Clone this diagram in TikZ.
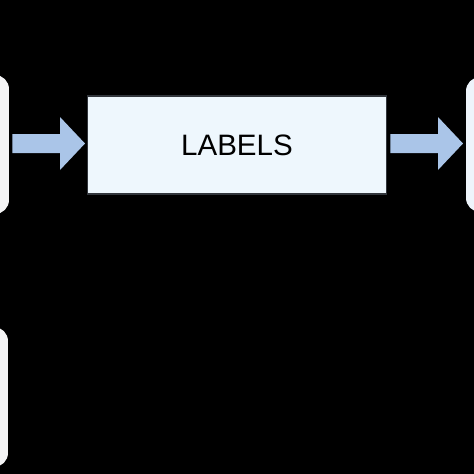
\documentclass[tikz,border=0pt]{standalone}
\usepackage{fontspec}
\setmainfont{Liberation Sans}
\usepackage{tikz}
\usetikzlibrary{calc}
\usepackage{xcolor}
\definecolor{arrowblue}{RGB}{170,197,232}
\definecolor{boxwhite}{RGB}{244,244,245}
\definecolor{boxblue}{RGB}{238,244,251}
\definecolor{labfill}{RGB}{238,247,253}
\definecolor{labedge}{RGB}{50,54,60}
\tikzset{
  sidebox/.style={fill=boxwhite, rounded corners=8pt, inner sep=0pt},
  labbox/.style={fill=labfill, draw=labedge, line width=0.6pt, inner sep=0pt,
    minimum width=6cm, minimum height=1.96cm, font=\fontsize{16.8}{20}\selectfont},
  blockarrow/.style={fill=arrowblue}
}
\newcommand\bigarrow[2]{%
  \fill[blockarrow] ($(#1)+(0,-9.5)$) -- ($(#2)+(-25,-9.5)$) -- ($(#2)+(-25,-26.5)$)
    -- (#2) -- ($(#2)+(-25,26.5)$) -- ($(#2)+(-25,9.5)$) -- ($(#1)+(0,9.5)$) -- cycle;}
\begin{document}
\begin{tikzpicture}[x=0.02cm, y=-0.02cm]
  \fill[black] (0,0) rectangle (474,474);
  \useasboundingbox (0,0) rectangle (474,474);
  \clip (0,0) rectangle (474,474);
  \node[sidebox, minimum width=1cm, minimum height=2.78cm] (src) at (-16,144.5) {};
  \node[sidebox, minimum width=1cm, minimum height=2.8cm] (aux) at (-17,397) {};
  \node[sidebox, fill=boxblue, minimum width=1cm, minimum height=2.7cm] (dst) at (491,144.5) {};
  \node[labbox] (lab) at (237,145) {LABELS};
  \coordinate (t1) at (85,143.5);
  \coordinate (t2) at (463,143.5);
  \bigarrow{$(src.east |- t1)+(3,0)$}{t1}
  \bigarrow{$(lab.east |- t2)+(3,0)$}{t2}
\end{tikzpicture}
\end{document}
